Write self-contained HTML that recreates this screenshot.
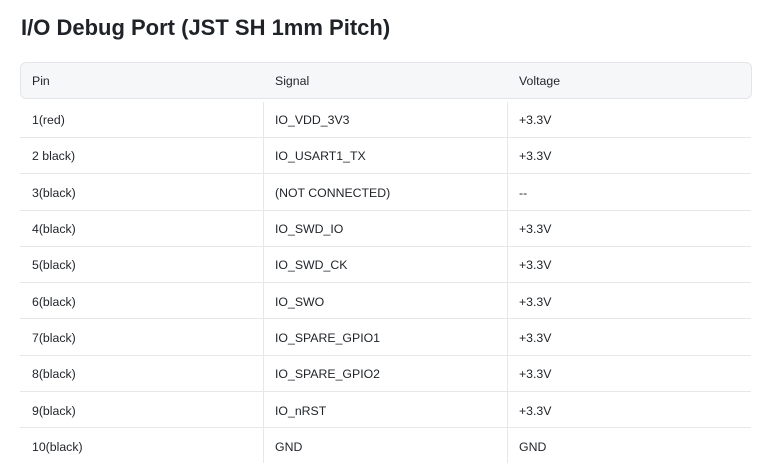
<!DOCTYPE html>
<html>
<head>
<meta charset="utf-8">
<style>
  html, body { margin:0; padding:0; background:#ffffff; }
  body { width:768px; height:471px; position:relative; overflow:hidden;
         font-family:"Liberation Sans", Arial, sans-serif; color:#1f2328; }
  .title { position:absolute; left:21px; top:15px; font-size:22px; font-weight:bold;
           line-height:normal; white-space:nowrap; color:#1f2328; }
  .hdr { position:absolute; left:20px; top:62px; width:730px; height:35px;
         background:#f6f7f9; border:1px solid #e3e5e8; border-radius:6px; box-sizing:content-box; }
  .ht { position:absolute; font-size:12.3px; line-height:36px; top:63px; white-space:nowrap; color:#1f2328; }
  .hl { position:absolute; left:20px; width:731px; height:1px; background:#e6e7ea; }
  .vl { position:absolute; top:102px; width:1px; height:361px; background:#e6e7ea; }
  .c { position:absolute; font-size:12.3px; height:36px; line-height:36px; white-space:nowrap; color:#1f2328; }
</style>
</head>
<body>
<div class="title">I/O Debug Port (JST SH 1mm Pitch)</div>

<div class="hdr"></div>
<div class="ht" style="left:32px;">Pin</div>
<div class="ht" style="left:275px;">Signal</div>
<div class="ht" style="left:519px;">Voltage</div>

<div class="vl" style="left:263px;"></div>
<div class="vl" style="left:507px;"></div>

<div class="hl" style="top:137px;"></div>
<div class="hl" style="top:173px;"></div>
<div class="hl" style="top:210px;"></div>
<div class="hl" style="top:246px;"></div>
<div class="hl" style="top:282px;"></div>
<div class="hl" style="top:318px;"></div>
<div class="hl" style="top:355px;"></div>
<div class="hl" style="top:391px;"></div>
<div class="hl" style="top:427px;"></div>

<!-- rows -->
<div class="c" style="left:32px;top:102px;">1(red)</div>
<div class="c" style="left:275px;top:102px;">IO_VDD_3V3</div>
<div class="c" style="left:519px;top:102px;">+3.3V</div>

<div class="c" style="left:32px;top:138px;">2 black)</div>
<div class="c" style="left:275px;top:138px;">IO_USART1_TX</div>
<div class="c" style="left:519px;top:138px;">+3.3V</div>

<div class="c" style="left:32px;top:175px;">3(black)</div>
<div class="c" style="left:275px;top:175px;">(NOT CONNECTED)</div>
<div class="c" style="left:519px;top:175px;">--</div>

<div class="c" style="left:32px;top:211px;">4(black)</div>
<div class="c" style="left:275px;top:211px;">IO_SWD_IO</div>
<div class="c" style="left:519px;top:211px;">+3.3V</div>

<div class="c" style="left:32px;top:247px;">5(black)</div>
<div class="c" style="left:275px;top:247px;">IO_SWD_CK</div>
<div class="c" style="left:519px;top:247px;">+3.3V</div>

<div class="c" style="left:32px;top:284px;">6(black)</div>
<div class="c" style="left:275px;top:284px;">IO_SWO</div>
<div class="c" style="left:519px;top:284px;">+3.3V</div>

<div class="c" style="left:32px;top:320px;">7(black)</div>
<div class="c" style="left:275px;top:320px;">IO_SPARE_GPIO1</div>
<div class="c" style="left:519px;top:320px;">+3.3V</div>

<div class="c" style="left:32px;top:356px;">8(black)</div>
<div class="c" style="left:275px;top:356px;">IO_SPARE_GPIO2</div>
<div class="c" style="left:519px;top:356px;">+3.3V</div>

<div class="c" style="left:32px;top:393px;">9(black)</div>
<div class="c" style="left:275px;top:393px;">IO_nRST</div>
<div class="c" style="left:519px;top:393px;">+3.3V</div>

<div class="c" style="left:32px;top:429px;">10(black)</div>
<div class="c" style="left:275px;top:429px;">GND</div>
<div class="c" style="left:519px;top:429px;">GND</div>
</body>
</html>
